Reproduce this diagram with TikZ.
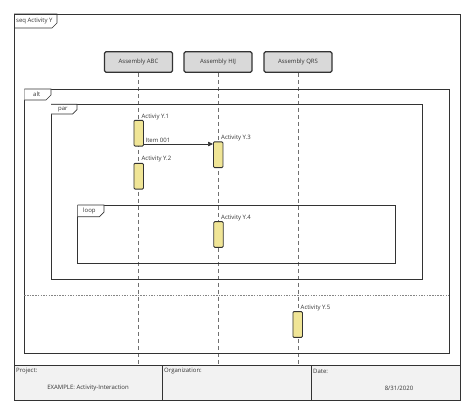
\documentclass[tikz,border=0pt]{standalone}
\usepackage{fontspec}
\setmainfont{Open Sans}
\usetikzlibrary{arrows.meta}
\definecolor{ln}{HTML}{333333}
\definecolor{actfill}{HTML}{F0E596}
\definecolor{headfill}{HTML}{D9D9D9}
\definecolor{footfill}{HTML}{F2F2F2}
\begin{document}
\begin{tikzpicture}[x=1pt,y=-1pt,
  every node/.style={font=\fontsize{6}{7}\selectfont, text=ln},
  frame/.style={draw=ln, line width=0.9pt},
  head/.style={draw=ln, line width=1.1pt, fill=headfill, rounded corners=1.5pt, minimum width=68pt, minimum height=20.5pt, inner sep=0pt},
  act/.style={draw=ln, line width=0.9pt, fill=actfill, rounded corners=1pt, minimum width=9.5pt, minimum height=25.7pt, inner sep=0pt},
  lifeline/.style={draw=ln!70, line width=0.7pt, dash pattern=on 4pt off 3pt},
  lbl/.style={anchor=west, inner sep=0pt},
  tab/.style={draw=ln, line width=0.7pt, fill=white}
]
\useasboundingbox (0,0) rectangle (474,413);
% outer frame
\draw[frame] (14,14) rectangle (460,400);
\draw[tab] (14,14) -- (57,14) -- (57,23) -- (52,28) -- (14,28);
\node[lbl] (seqlbl) at (16,21) {seq Activity Y};
% footer
\fill[footfill] (14,365) rectangle (460,400);
\draw[frame] (14,365) -- (460,365);
\draw[frame] (162.3,365) -- (162.3,400);
\draw[frame] (311.3,365) -- (311.3,400);
\draw[frame] (14,14) rectangle (460,400);
\node[lbl] (proj) at (16,371) {Project:};
\node (projv) at (88,388) {EXAMPLE: Activity-Interaction};
\node[lbl] (org) at (164,371) {Organization:};
\node[lbl] (date) at (313,371) {Date:};
\node (datev) at (399,388) {8/31/2020};
% lifeline heads
\node[head] (abc) at (138.5,62) {Assembly ABC};
\node[head] (hij) at (218,62) {Assembly HIJ};
\node[head] (qrs) at (298,62) {Assembly QRS};
\coordinate (abcend) at (138.5,365);
\coordinate (hijend) at (218,365);
\coordinate (qrsend) at (298,365);
\draw[lifeline] (abc.south) -- (abcend);
\draw[lifeline] (hij.south) -- (hijend);
\draw[lifeline] (qrs.south) -- (qrsend);
% alt fragment
\draw[frame] (24.3,89) rectangle (449,353);
\draw[tab] (24.3,89) -- (51,89) -- (51,95) -- (46,100) -- (24.3,100);
\node[lbl] (altlbl) at (33,94.5) {alt};
\draw[ln!60, line width=0.6pt, dash pattern=on 1.5pt off 1.2pt] (24.3,295) -- (449,295);
% par fragment
\draw[frame] (51,104.3) rectangle (422.7,279);
\draw[tab] (51,104.3) -- (77,104.3) -- (77,109.5) -- (72.5,114) -- (51,114);
\node[lbl] (parlbl) at (58,109.3) {par};
% loop fragment
\draw[frame] (77.7,205) rectangle (395.7,263);
\draw[tab] (77.7,205) -- (104,205) -- (104,212) -- (99.5,216.7) -- (77.7,216.7);
\node[lbl] (looplbl) at (83,210.8) {loop};
% activations
\node[act] (y1) at (138.7,133.2) {};
\node[act] (y2) at (138.7,176.2) {};
\node[act] (y3) at (218.2,154.7) {};
\node[act] (y4) at (218.5,234.5) {};
\node[act] (y5) at (297.7,324.5) {};
\node[lbl] (l1) at (141.5,117) {Activiy Y.1};
\node[lbl] (l2) at (141.5,159.5) {Activity Y.2};
\node[lbl] (l3) at (221,138) {Activity Y.3};
\node[lbl] (l4) at (221,218) {Activity Y.4};
\node[lbl] (l5) at (300.5,308.5) {Activity Y.5};
% message
\draw[draw=ln, line width=0.6pt, -{Triangle[length=5pt,width=4.5pt]}] (y1.east |- 0,144) -- (y3.west |- 0,144) node[pos=0, lbl, anchor=south west, inner sep=1.5pt] (msg) {Item 001};
\end{tikzpicture}
\end{document}
